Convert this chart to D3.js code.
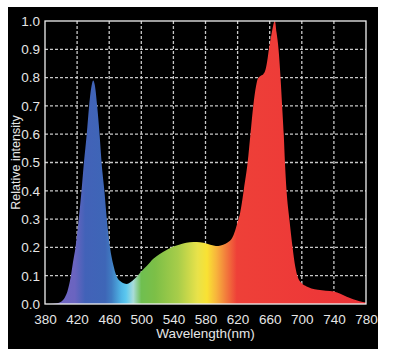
<!DOCTYPE html>
<html>
<head>
<meta charset="utf-8">
<script src="https://cdn.jsdelivr.net/npm/d3@7"></script>
<style>
  body { margin: 0; background: #fff; }
  text { font-family: 'Liberation Sans', Arial, sans-serif; }
</style>
</head>
<body>
<div id="chart"></div>
<script>
// Spectrum data (wavelength in nm, relative intensity)
const wavelengths = [380, 390, 395, 400, 405, 408, 412, 415, 418, 422, 425.5, 428.5, 432, 435, 438, 440, 442, 445, 448, 450.5, 454, 457, 461, 465, 469, 474, 478, 482, 486, 492, 500, 507, 515, 523, 532, 540, 548, 556, 565, 573, 582, 590, 596, 602, 608, 613, 617, 620, 623, 626, 628, 632.5, 636, 639.5, 643, 645, 648, 652, 655, 657, 659, 662, 666.5, 668.5, 671, 673.5, 675.5, 677.5, 679, 681, 684.5, 688.5, 692, 695, 700, 706, 712, 720, 730, 740, 748, 756, 764, 772, 780]
const intensity = [0, 0.001, 0.003, 0.008, 0.025, 0.045, 0.095, 0.15, 0.2, 0.3, 0.4, 0.5, 0.6, 0.7, 0.77, 0.79, 0.775, 0.7, 0.6, 0.5, 0.4, 0.3, 0.2, 0.14, 0.1, 0.08, 0.073, 0.071, 0.076, 0.09, 0.115, 0.135, 0.16, 0.177, 0.192, 0.203, 0.21, 0.216, 0.219, 0.218, 0.213, 0.207, 0.205, 0.209, 0.218, 0.232, 0.26, 0.29, 0.32, 0.37, 0.41, 0.5, 0.6, 0.7, 0.77, 0.795, 0.805, 0.812, 0.83, 0.86, 0.9, 0.95, 1.0, 0.96, 0.9, 0.8, 0.7, 0.6, 0.5, 0.4, 0.3, 0.2, 0.13, 0.095, 0.073, 0.062, 0.055, 0.05, 0.047, 0.044, 0.036, 0.026, 0.017, 0.01, 0.005]

// Fill colour along the spectrum
const stopWavelengths = [380, 417, 430, 455, 463, 475, 481, 490, 500, 517, 546, 570, 582, 594, 606, 619, 780]
const stopColors = ['#7466c2', '#6a64c0', '#4262b8', '#3e66b7', '#3f7cc2', '#4fb6e6', '#5cc8ef', '#a9dcd9', '#6fbf50', '#7cbf47', '#a8cd4a', '#e8e24a', '#f9e233', '#f7b23c', '#f27a3c', '#ee4038', '#ed3338']

const xTicks = [380, 420, 460, 500, 540, 580, 620, 660, 700, 740, 780]
const yTicks = [0, 0.1, 0.2, 0.3, 0.4, 0.5, 0.6, 0.7, 0.8, 0.9, 1.0]

const width = 395,
  height = 364
const margin = { top: 21, right: 29, bottom: 60, left: 45 }

let svg = d3.select('#chart')
  .append('svg')
  .attr('width', width)
  .attr('height', height)

// black panel
svg.append('rect')
  .attr('x', 8)
  .attr('y', 7)
  .attr('width', 370)
  .attr('height', 342)
  .attr('fill', '#000')

const xScale = d3.scaleLinear()
  .domain([380, 780])
  .range([margin.left, width - margin.right])

const yScale = d3.scaleLinear()
  .domain([0, 1])
  .range([height - margin.bottom, margin.top])

// gradient
const grad = svg.append('defs')
  .append('linearGradient')
  .attr('id', 'spectrum')
  .attr('gradientUnits', 'userSpaceOnUse')
  .attr('x1', xScale(380))
  .attr('x2', xScale(780))
  .attr('y1', 0)
  .attr('y2', 0)

grad.selectAll('stop')
  .data(stopWavelengths)
  .enter()
  .append('stop')
  .attr('offset', d => (d - 380) / 400)
  .attr('stop-color', (d, i) => stopColors[i])

// grid
svg.append('g')
  .selectAll('line')
  .data(yTicks.slice(1, -1))
  .enter()
  .append('line')
  .attr('x1', xScale(380))
  .attr('x2', xScale(780))
  .attr('y1', d => yScale(d))
  .attr('y2', d => yScale(d))
  .attr('stroke', '#c8c8c8')
  .attr('stroke-width', 1.3)
  .attr('stroke-dasharray', '3,2')

svg.append('g')
  .selectAll('line')
  .data(xTicks.slice(1, -1))
  .enter()
  .append('line')
  .attr('x1', d => xScale(d))
  .attr('x2', d => xScale(d))
  .attr('y1', yScale(0))
  .attr('y2', yScale(1))
  .attr('stroke', '#c8c8c8')
  .attr('stroke-width', 1.3)
  .attr('stroke-dasharray', '3,2')

// spectrum area
const area = d3.area()
  .x((d, i) => xScale(wavelengths[i]))
  .y0(yScale(0))
  .y1(d => yScale(d))
  .curve(d3.curveMonotoneX)

svg.append('path')
  .datum(intensity)
  .attr('d', area)
  .attr('fill', 'url(#spectrum)')

// frame
svg.append('rect')
  .attr('x', xScale(380))
  .attr('y', yScale(1))
  .attr('width', xScale(780) - xScale(380))
  .attr('height', yScale(0) - yScale(1))
  .attr('fill', 'none')
  .attr('stroke', '#f0f0f0')
  .attr('stroke-width', 1.3)

// axes
const xAxis = d3.axisBottom(xScale)
  .tickValues(xTicks)
  .tickSize(0)
  .tickPadding(10)

const yAxis = d3.axisLeft(yScale)
  .tickValues(yTicks)
  .tickSize(0)
  .tickPadding(5)
  .tickFormat(d3.format('.1f'))

svg.append('g')
  .attr('transform', `translate(0, ${yScale(0)})`)
  .call(xAxis)
  .call(g => g.select('.domain').remove())
  .selectAll('text')
  .attr('fill', '#e6e6e6')
  .style('font-size', '13.5px')

svg.append('g')
  .attr('transform', `translate(${xScale(380)}, 0)`)
  .call(yAxis)
  .call(g => g.select('.domain').remove())
  .selectAll('text')
  .attr('fill', '#e6e6e6')
  .style('font-size', '13.5px')

// axis titles
svg.append('text')
  .attr('x', (xScale(380) + xScale(780)) / 2)
  .attr('y', 338)
  .attr('text-anchor', 'middle')
  .attr('fill', '#e6e6e6')
  .style('font-size', '13.5px')
  .text('Wavelength(nm)')

svg.append('text')
  .attr('transform', `translate(20, ${(yScale(0) + yScale(1)) / 2}) rotate(-90)`)
  .attr('text-anchor', 'middle')
  .attr('fill', '#e6e6e6')
  .style('font-size', '12.5px')
  .text('Relative intensity')
</script>
</body>
</html>
